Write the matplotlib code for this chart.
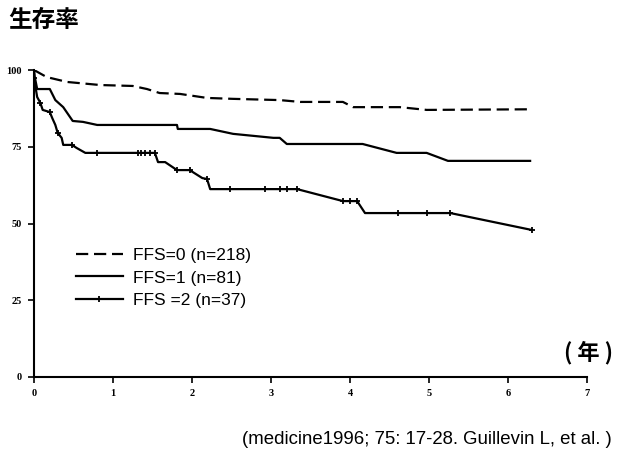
import matplotlib
matplotlib.use("Agg")
import matplotlib.pyplot as plt
from matplotlib.lines import Line2D

# FFS=0 (n=218)
t0 = [0, 0.16, 0.42, 0.84, 1.25, 1.43, 1.59, 1.85, 2.19, 2.52, 3.11, 3.37, 3.91, 4.04, 4.63, 4.97, 6.28]
v0 = [100, 97.7, 96.1, 95.1, 94.8, 93.8, 92.5, 92.2, 90.9, 90.6, 90.2, 89.6, 89.6, 87.9, 87.9, 87.0, 87.2]

# FFS=1 (n=81)
t1 = [0, 0.01, 0.04, 0.20, 0.27, 0.37, 0.49, 0.62, 0.80, 1.81, 1.82, 2.23, 2.52, 3.03, 3.11, 3.20, 4.16, 4.59, 4.97, 5.24, 6.28]
v1 = [100, 97.7, 93.8, 93.8, 90.2, 87.9, 83.4, 83.1, 82.1, 82.1, 80.8, 80.8, 79.2, 77.9, 77.9, 75.9, 75.9, 73.0, 73.0, 70.4, 70.4]

# FFS=2 (n=37)
t2 = [0, 0.0, 0.04, 0.08, 0.11, 0.20, 0.23, 0.27, 0.30, 0.35, 0.37, 0.48, 0.54, 0.65, 0.80, 1.32, 1.35, 1.41, 1.47, 1.53,
      1.57, 1.66, 1.81, 1.97, 2.13, 2.19, 2.23, 2.48, 2.92, 3.11, 3.20, 3.33, 3.91, 4.00, 4.09, 4.19, 4.61, 4.97, 5.27, 6.30]
v2 = [100, 97.4, 91.2, 89.3, 87.0, 86.3, 84.4, 82.1, 79.5, 77.9, 75.6, 75.6, 74.6, 73.0, 73.0, 73.0, 73.0, 73.0, 73.0, 73.0,
      70.0, 70.0, 67.4, 67.4, 64.8, 64.5, 61.2, 61.2, 61.2, 61.2, 61.2, 61.2, 57.3, 57.3, 57.3, 53.4, 53.4, 53.4, 53.4, 47.9]
censor2 = [1, 3, 5, 8, 11, 14, 15, 16, 17, 18, 19, 22, 23, 25, 27, 28, 29, 30, 31, 32, 33, 34, 36, 37, 38, 39]

labels = ["FFS=0 (n=218)", "FFS=1 (n=81)", "FFS =2 (n=37)"]
xticks = [0, 1, 2, 3, 4, 5, 6, 7]
yticks = [0, 25, 50, 75, 100]

W, H = 617, 455
fig = plt.figure(figsize=(W / 100, H / 100), dpi=100)
ax = fig.add_axes([34 / W, 1 - 377 / H, (587 - 34) / W, (377 - 70) / H])

lw = 1.6
ax.plot(t0, v0, color="black", lw=lw, dashes=(5.5, 2.6))
ax.plot(t1, v1, color="black", lw=lw)
ax.plot(t2, v2, color="black", lw=lw, marker="+", markersize=5, markeredgewidth=1.3,
        markevery=censor2)

ax.set_xlim(0, 7)
ax.set_ylim(0, 100)
ax.set_xticks(xticks)
ax.set_yticks(yticks)
for s in ["top", "right"]:
    ax.spines[s].set_visible(False)
for s in ["left", "bottom"]:
    ax.spines[s].set_linewidth(1.5)
ax.tick_params(axis="both", direction="out", length=4, width=1.2, labelsize=7.5, pad=5)
for lab in ax.get_xticklabels() + ax.get_yticklabels():
    lab.set_fontfamily("Liberation Serif")
    lab.set_fontweight("bold")

handles = [
    Line2D([], [], color="black", lw=lw, dashes=(5.5, 2.6)),
    Line2D([], [], color="black", lw=lw),
    Line2D([], [], color="black", lw=lw, marker="+", markersize=5, markeredgewidth=1.3),
]
leg = ax.legend(handles, labels, loc="upper left", bbox_to_anchor=(69 / W, 1 - 241 / H),
                bbox_transform=fig.transFigure, frameon=False,
                prop={"family": "Liberation Sans", "size": 12.5},
                handlelength=2.7, handletextpad=0.6, labelspacing=0.42, borderaxespad=0)

fig.text(8 / W, 1 - 20 / H, "生存率", fontsize=17, fontweight="bold",
         family=["Noto Sans CJK JP", "DejaVu Sans"], va="center", ha="left")
fig.text(589 / W, 1 - 353 / H, "( 年 )", fontsize=16, fontweight="bold",
         family=["Noto Sans CJK JP", "DejaVu Sans"], va="center", ha="center")
fig.text(612 / W, 1 - 440 / H, "(medicine1996; 75: 17-28. Guillevin L, et al. )", fontsize=13.4,
         family=["Liberation Sans"], va="center", ha="right")

fig.savefig("out.png", dpi=100)
